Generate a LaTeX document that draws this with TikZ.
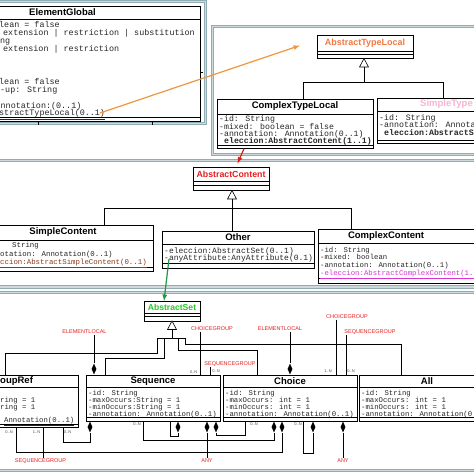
\documentclass[tikz,border=0pt]{standalone}
\usepackage{fontspec}
\setmainfont{Liberation Sans}
\newfontfamily\monof{Liberation Mono}
\usetikzlibrary{arrows,calc,shapes.geometric}

\definecolor{framec}{RGB}{145,172,178}
\definecolor{framein}{RGB}{205,218,221}
\definecolor{atlc}{RGB}{240,120,70}
\definecolor{stlc}{RGB}{248,180,210}
\definecolor{acc}{RGB}{230,30,30}
\definecolor{asc}{RGB}{40,200,40}
\definecolor{ccc}{RGB}{215,50,215}
\definecolor{scc}{RGB}{140,60,30}
\definecolor{oarr}{RGB}{240,150,60}
\definecolor{rarr}{RGB}{220,30,20}
\definecolor{garr}{RGB}{30,150,70}

\tikzset{
  panel/.style={draw=framec, line width=1pt, double=framein, double distance=1.5pt},
  cls/.style={draw, line width=0.7pt, fill=white, rectangle, inner sep=0pt, anchor=north west},
  ttl/.style={inner sep=0pt, font=\fontsize{9.5}{10}\selectfont\bfseries},
  att/.style={anchor=base west, inner sep=0pt, text=black!85, font=\monof\fontsize{#1}{#1}\selectfont},
  att/.default=8,
  lbl/.style={inner sep=0.5pt, text=acc, font=\fontsize{5.5}{6}\selectfont},
  mult/.style={inner sep=0pt, text=black!70, font=\fontsize{4}{4}\selectfont},
  dmd/.style={diamond, fill=black, inner sep=0pt, minimum width=5pt, minimum height=11pt}
}

\begin{document}
\begin{tikzpicture}[x=1pt, y=-1pt]
\useasboundingbox (0,0) rectangle (474,474);
\clip (0,0) rectangle (474,474);
\fill[white] (0,0) rectangle (474,474);

% panels
\draw[panel] (-5,1.5) rectangle (205.5,123.5);
\draw[panel] (212.5,26.5) rectangle (480,154.5);
\draw[panel] (-5,160.5) rectangle (480,287);
\draw[panel] (-5,292.5) rectangle (480,470.5);

% ElementGlobal
\node[cls, minimum width=215pt, minimum height=115pt] (eg) at (-15,6) {};
\draw (-15,19) -- (200,19) (-15,117) -- (200,117);
\draw (38,121) -- (38,124.5) (152,121) -- (152,124.5) (200,72) -- (203,72);
\node[ttl] (egt) at (62.5,12.5) {ElementGlobal};
\node[att=8.4] (eg1) at (-1,27.3) {lean = false};
\node[att=8.4] (eg2) at (3,35.4) {extension | restriction | substitution};
\node[att=8.4] (eg3) at (0,43.5) {ng};
\node[att=8.4] (eg4) at (3,51.6) {extension | restriction};
\node[att=8.4] (eg5) at (-1,84) {lean = false};
\node[att=8.4] (eg6) at (0,92) {-up: String};
\node[att=8.4] (eg7) at (0.5,108.3) {nnotation:(0..1)};
\node[att=8.4] (eg8) at (-1,115.6) {\underline{stractTypeLocal(0..1)}};

% AbstractTypeLocal
\node[cls, minimum width=96pt, minimum height=23pt] (atl) at (317,35) {};
\draw (317,51) -- (413,51) (317,54.5) -- (413,54.5);
\node[ttl, text=atlc, font=\fontsize{9}{10}\selectfont\bfseries] (atlt) at (365,43) {AbstractTypeLocal};
\draw[fill=white, line width=0.6pt] (364,58.5) -- (368.5,67) -- (359.5,67) -- cycle;
\coordinate (atlb) at (364,67);

% ComplexTypeLocal
\node[cls, minimum width=156pt, minimum height=49pt] (ctl) at (217,99) {};
\draw (217,114) -- (373,114) (217,145.5) -- (373,145.5);
\node[ttl] (ctlt) at (295,106.5) {ComplexTypeLocal};
\foreach \t [count=\i from 0] in {-id: String, -mixed: boolean = false, -annotation: Annotation(0..1)}
  \node[att=8.2] (ctl\i) at (219,121.3+7.7*\i) {\t};
\node[att=8.2] (ctl3) at (224,143.8) {\bfseries eleccion:AbstractContent(1..1)};

% SimpleTypeLocal (cut at the edge)
\node[cls, minimum width=110pt, minimum height=45pt] (stl) at (377,98) {};
\draw (377,111) -- (487,111) (377,140.5) -- (487,140.5);
\node[ttl, text=stlc, anchor=west] (stlt) at (420,104.5) {SimpleType};
\node[att=8.3] (stl0) at (379,120.3) {-id: String};
\node[att=8.3] (stl1) at (379,127.8) {-annotation: Annota};
\node[att=8.3] (stl2) at (384,135.3) {\bfseries eleccion:AbstractS};

\draw (atlb) -- (364,82) -| ($(ctl.north west)+(86,0)$);
\draw (364,82) -| ($(stl.north west)+(66,0)$);

% AbstractContent
\node[cls, minimum width=76pt, minimum height=23pt] (ac) at (193,167) {};
\draw (193,181) -- (269,181) (193,185) -- (269,185);
\node[ttl, text=acc, font=\fontsize{8.8}{10}\selectfont\bfseries] (act) at (231,174) {AbstractContent};
\draw[fill=white, line width=0.6pt] (232,190.5) -- (236.5,199) -- (227.5,199) -- cycle;
\coordinate (acb) at (232,199);

% SimpleContent
\node[cls, minimum width=158pt, minimum height=46pt] (sc) at (-5,225) {};
\draw (-5,240) -- (153,240) (-5,267) -- (153,267);
\node[ttl] (sct) at (63,232.5) {SimpleContent};
\node[att=7.4] (sc0) at (12,247.5) {String};
\node[att=7.4] (sc1) at (0,256) {otation: Annotation(0..1)};
\node[att=7.4, text=scc] (sc2) at (0,264) {\underline{ccion:AbstractSimpleContent(0..1)}};

% Other
\node[cls, minimum width=152pt, minimum height=37pt] (oth) at (162,231) {};
\draw (162,244) -- (314,244) (162,263) -- (314,263);
\node[ttl] (otht) at (238,237.5) {Other};
\node[att=8] (oth0) at (164,253.3) {-eleccion:AbstractSet(0..1)};
\node[att=8] (oth1) at (164,260.5) {-anyAttribute:AnyAttribute(0.1)};

% ComplexContent
\node[cls, minimum width=170pt, minimum height=54pt] (cc) at (318,229) {};
\draw (318,243) -- (488,243) (318,278) -- (488,278);
\node[ttl] (cct) at (386,236) {ComplexContent};
\foreach \t [count=\i from 0] in {-id: String, -mixed: boolean, -annotation: Annotation(0..1)}
  \node[att=7.3] (cc\i) at (320,252.2+7.7*\i) {\t};
\node[att=7.3, text=ccc] (cc3) at (320,275.2) {\underline{-eleccion:AbstractComplexContent(1.}};

\draw (acb) -- ($(oth.north west)+(70,0)$);
\draw (232,208) -| ($(sc.north west)+(109,0)$);
\draw (232,208) -| ($(cc.north west)+(33,0)$);

% AbstractSet
\node[cls, minimum width=56pt, minimum height=20pt] (as) at (144,301) {};
\draw (144,313) -- (200,313) (144,316.5) -- (200,316.5);
\node[ttl, text=asc, font=\fontsize{8.6}{10}\selectfont\bfseries] (ast) at (172,307) {AbstractSet};
\draw[fill=white, line width=0.6pt] (172,321) -- (176.5,329.5) -- (167.5,329.5) -- cycle;
\coordinate (asb) at (172,329.5);

% GroupRef
\node[cls, minimum width=88pt, minimum height=52pt] (gr) at (-10,375) {};
\draw (-10,387) -- (78,387) (-10,424) -- (78,424);
\node[ttl, anchor=west] (grt) at (0,381.5) {oupRef};
\node[att=7.3] (gr0) at (0,402.2) {ring = 1};
\node[att=7.3] (gr1) at (0,409.2) {ring = 1};
\node[att=7.3] (gr2) at (4,422) {\underline{Annotation(0..1)}};

% Sequence
\node[cls, minimum width=134pt, minimum height=46pt] (seq) at (86,375) {};
\draw (86,387) -- (220,387) (86,417.5) -- (220,417.5);
\node[ttl] (seqt) at (153,381.5) {Sequence};
\foreach \t [count=\i from 0] in {-id: String, -maxOccurs:String = 1, -minOccurs:String = 1, -annotation: Annotation(0..1)}
  \node[att=7.3] (seq\i) at (88,395.2+7*\i) {\t};

% Choice
\node[cls, minimum width=134pt, minimum height=46pt] (ch) at (223,375) {};
\draw (223,387) -- (357,387) (223,417.5) -- (357,417.5);
\node[ttl] (cht) at (290,381.5) {Choice};
\foreach \t [count=\i from 0] in {-id: String, -maxOccurs: int = 1, -minOccurs: int = 1, -annotation: Annotation(0..1)}
  \node[att=7.3] (ch\i) at (225,395.2+7*\i) {\t};

% All
\node[cls, minimum width=130pt, minimum height=46pt] (al) at (359,375) {};
\draw (359,387) -- (489,387) (359,417.5) -- (489,417.5);
\node[ttl] (alt) at (427,381.5) {All};
\foreach \t [count=\i from 0] in {-id: String, -maxOccurs: int = 1, -minOccurs: int = 1, -annotation: Annotation(0}
  \node[att=7.3] (al\i) at (361,395.2+7*\i) {\t};

% generalisation to AbstractSet
\draw (asb) -- (172,338);
\draw (157,338) -- (185,338);
\draw (157,338) |- (5,353) -- ($(gr.north west)+(15,0)$);
\draw (164,338) |- (105,358) -- ($(seq.north west)+(19,0)$);
\draw (178,338) |- (257,350) -- ($(ch.north west)+(34,0)$);
\draw (185,338) |- (401,344) -- ($(al.north west)+(42,0)$);

% roles above the groups
\node[lbl] (el1) at (84.5,332) {ELEMENTLOCAL};
\node[dmd] (d1) at (94,369) {};
\draw (d1 |- el1.south) -- (d1);
\node[lbl] (cg1) at (212,329) {CHOICEGROUP};
\draw (200,0 |- cg1.south) -- (200,0 |- seq.north);
\node[mult] (m1) at (193.5,372) {0..N};
\node[lbl] (sg1) at (230,364) {SEQUENCEGROUP};
\draw (210,0 |- sg1.south) -- (210,0 |- seq.north);
\node[mult] (m2) at (216,371.5) {0..N};

\node[lbl] (el2) at (280,329) {ELEMENTLOCAL};
\node[dmd] (d2) at (290,369) {};
\draw (d2 |- el2.south) -- (d2);
\node[lbl] (cg2) at (347,317) {CHOICEGROUP};
\draw (336,0 |- cg2.south) -- (336,0 |- ch.north);
\node[mult] (m3) at (328,371.5) {1..N};
\node[lbl] (sg2) at (370,332) {SEQUENCEGROUP};
\draw (346,0 |- sg2.south) -- (346,0 |- ch.north);
\node[mult] (m4) at (351,371.5) {0..N};

% roles below the groups
\foreach \n/\x in {dg/90, ds1/178, ds2/207, ds3/216, dc1/274, dc2/282, dc3/313, dc4/343}
  \node[dmd] (\n) at (\x,427) {};
\node[lbl] (sg3) at (40.5,461) {SEQUENCEGROUP};
\node[lbl] (any1) at (207,461) {ANY};
\node[lbl] (any2) at (343,461) {ANY};

\draw (16,0 |- gr.south) |- (282,452) -- (dc2.south);
\draw (43,0 |- gr.south) -- (43,0 |- sg3.north);
\draw (63,0 |- gr.south) |- (90,442) -- (dg.south);
\draw (143,0 |- seq.south) |- (274,440) -- (dc1.south);
\draw (170,0 |- seq.south) |- (178,436) -- (ds1.south);
\draw (ds2.south) -- (any1.north);
\draw (ds3.south) |- (245,435) -- (245,0 |- ch.south);
\draw (303,0 |- ch.south) |- (313,453) -- (dc3.south);
\draw (dc4.south) -- (any2.north);

\node[mult] (m5) at (9,432) {0..N};
\node[mult] (m6) at (36.5,432) {1..N};
\node[mult] (m7) at (67.5,432) {0..N};
\node[mult] (m8) at (137,424.5) {0..N};
\node[mult] (m9) at (254,424) {0..N};
\node[mult] (m10) at (298,424) {0..N};

% references between the panels
\coordinate (egx) at (100,113);
\coordinate (atlx) at (300,45.5);
\draw[->, >=latex, line width=1.2pt, draw=oarr] (egx) -- (atlx);
\coordinate (acx) at (237.5,163.5);
\draw[->, >=latex, line width=1.2pt, draw=rarr] ($(ctl.south west)+(27,0)$) -- (acx);
\coordinate (othx) at (169,259);
\draw[->, >=latex, line width=1.2pt, draw=garr] (othx) -- ($(as.north west)+(20,0)$);

\end{tikzpicture}
\end{document}
